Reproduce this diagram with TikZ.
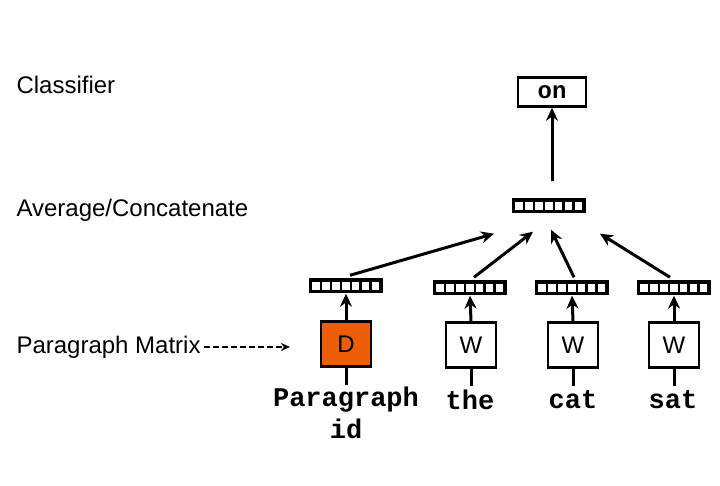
\documentclass[tikz,border=0pt]{standalone}
\usepackage{fontspec}
\setmainfont{Liberation Sans}
\newfontfamily\mono{Liberation Mono}
\usetikzlibrary{arrows.meta,calc}
\begin{document}
\begin{tikzpicture}[x=1pt,y=-1pt,
  vec/.style={draw=none,fill=black,minimum width=74pt,minimum height=15pt,inner sep=0pt},
  box/.style={draw,line width=2.5pt,minimum width=50pt,minimum height=45pt,inner sep=0pt,font=\fontsize{24}{24}\selectfont},
  word/.style={font=\mono\bfseries\fontsize{27}{32}\selectfont,align=center},
  lab/.style={anchor=west,font=\fontsize{24}{24}\selectfont},
  arr/.style={line width=3pt,-{Stealth[length=13pt,width=12pt]}},
  stub/.style={line width=3pt}]
\useasboundingbox (0,0) rectangle (720,486);
\newcommand\cells[1]{\foreach \i in {0,...,6}{\fill[white] ($(#1.west)+(3.4+\i*9.9,-4.4)$) rectangle ++(7.6,8.8);}}
\node[draw,line width=2.5pt,minimum width=68pt,minimum height=29pt,font=\mono\bfseries\fontsize{24}{24}\selectfont] (on) at (552,92) {on};
\node[vec] (avg) at (549,206) {};
\node[vec] (pv) at (346,286) {};
\node[vec] (tv) at (470,288) {};
\node[vec] (cv) at (572,288) {};
\node[vec] (sv) at (674,288) {};
\cells{avg}\cells{pv}\cells{tv}\cells{cv}\cells{sv}
\node[box,fill={rgb,255:red,236;green,93;blue,7}] (D) at (346,344) {\raisebox{-3pt}{D}\hspace{6pt}};
\node[box,fill=white] (W1) at (471,345) {\raisebox{-6pt}{W}\hspace{14pt}};
\node[box,fill=white] (W2) at (573,345) {\raisebox{-6pt}{W}\hspace{14pt}};
\node[box,fill=white] (W3) at (674,345) {\raisebox{-6pt}{W}\hspace{14pt}};
\node[word] (tp) at (346,413) {Paragraph\\id};
\node[word] (tt) at (470,400) {the};
\node[word] (tc) at (573,400) {cat};
\node[word] (ts) at (673,400) {sat};
\node[lab] (l1) at (13,85) {Classifier};
\node[lab] (l2) at (13,210) {Average/Concatenate};
\node[lab] (l3) at (13,347) {Paragraph Matrix};
\coordinate (le) at (290,347);
\draw[line width=2pt,dashed,dash pattern=on 6pt off 3pt,-{Stealth[length=9pt,width=8pt]}] (l3.east) -- (le);
% stubs and arrows
\foreach \b/\v in {D/pv,W1/tv,W2/cv,W3/sv}{
  \draw[stub] (\b.south) -- ++(0,17);
  \draw[arr] (\b.north) -- (\v.south);}
\draw[arr] ($(pv.north)+(4,-3)$) -- ($(avg.south)+(-55,20)$);
\draw[arr] ($(tv.north)+(4,-3)$) -- ($(avg.south)+(-16,18)$);
\draw[arr] ($(cv.north)+(2,-3)$) -- ($(avg.south)+(2,16)$);
\draw[arr] ($(sv.north)+(-4,-3)$) -- ($(avg.south)+(51,20)$);
\draw[arr] ($(avg.north)+(3,-17)$) -- (on.south);
\end{tikzpicture}
\end{document}
